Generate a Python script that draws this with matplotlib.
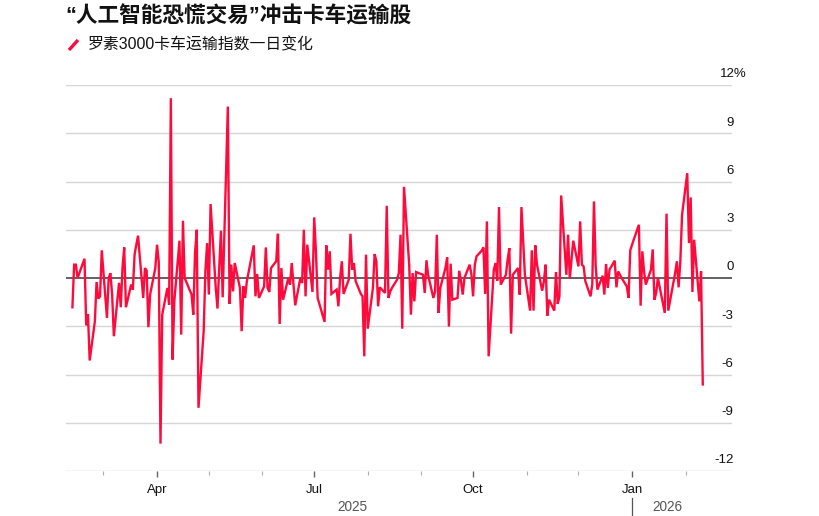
import pandas as pd
import matplotlib
matplotlib.use("Agg")
import matplotlib.pyplot as plt
import matplotlib.dates as mdates
import matplotlib.transforms as mtransforms
from matplotlib.lines import Line2D

plt.rcParams["font.family"] = ["Liberation Sans", "Noto Sans CJK SC"]

# Variation journalière (%) de l'indice, mois par mois
fev25 = [-1.82, 0.83, 0.83, 0, 1.2, -2.94, -2.24, -5.13, -2.7, -0.25, -1.28, -1.14, 1.72]
mar25 = [-2.48, 0, 0.3, -1.03, -3.62, -0.3, -1.82, 0.62, 1.9, -1.82, -0.41, -0.72, 1.45,
         2.07, 2.63, -1.24, 0.62, 0.45, -3.06, -1.03, 0.62]
avr25 = [2.07, 1.0, -10.3, -2.28, -0.62, -1.66, 11.18, -5.07, -1.45, 2.32, -3.52, 3.56, 0,
         -1.03, -2.28, 1.55, 3.0, -8.07, -3.31, 0.43, 2.17]
mai25 = [-1.03, 4.6, -0.62, -1.9, 0.62, 2.94, -1.2, 10.66, -1.61, 0.83, -0.83, 0.93, -0.62,
         -3.31, -0.52, -1.24, -0.2, 2.03, -1.14, 0.25, -1.24]
jun25 = [-0.52, 1.9, -0.62, -0.87, 0.62, 1.04, 2.75, -2.86, 0.62, -1.35, 0, -0.41, 0.93,
         -1.7, 0, -0.31, 3.0, -1.14, 2.07, -0.87]
jul25 = [3.77, 1.66, -1.24, -2.73, 2.03, 0.52, 1.66, -0.99, -0.72, -1.76, 0, 1.04, -0.99,
         -0.1, 2.75, 0.52, 0.93, -0.2, -0.99, -1.14, -4.87, 1.45]
aou25 = [-3.15, -0.62, 1.49, 1.04, -1.76, -0.58, -0.93, 4.49, -1.24, -0.85, -0.62, -0.1,
         0.3, 2.69, -3.15, 5.67, 0.83, -2.28, 0.31, -1.45, 0.37]
sep25 = [0.2, -0.93, 1.1, 0.17, -1.24, -0.83, 2.69, -2.17, -0.62, 0.62, 1.28, -3.02, 0.89,
         -1.35, -1.24, 0.45, -0.2, -1.03, 0, 0.83, 0.25]
oct25 = [-1.14, 0.83, 1.35, 1.7, 1.9, -0.99, 3.52, -4.87, 0.52, 0.93, -0.17, 4.41, -0.41,
         0.2, 1.14, 1.86, -3.46, 0.2, 0.62, -1.03, 4.41, 2.24, 0.2]
nov25 = [-2.03, 1.72, -2.03, 2.03, 0.83, -0.79, -0.2, 0.83, -2.34, -1.35, -2.03, 0.37,
         -1.61, -1.14, 5.13, 0.2, 2.69, -0.04, 2.32]
dec25 = [0.72, 3.52, 0.83, 0.72, -0.2, -1.14, -0.41, 4.76, 0.72, -0.72, 0.14, -1.03, 0.87,
         -0.62, 0.52, 1.08, -0.58, 0.41, 0, -0.52, -1.24, 1.72]
jan26 = [2.38, 3.31, -1.72, 1.66, 0.41, -0.41, 0.52, 1.78, -1.35, -0.93, 0, -2.17, 4.0,
         -2.03, -1.45, 0.31, 1.04, -0.58, 1.04, 3.93]
fev26 = [6.52, 2.17, 5.01, -0.87, 2.38, -1.45, 0.41, -6.62]

# Jours fériés de la bourse de New York sur la période
feries = ["2025-02-17", "2025-04-18", "2025-05-26", "2025-06-19", "2025-07-04",
          "2025-09-01", "2025-11-27", "2025-12-25", "2026-01-01", "2026-01-19"]

graduations_y = [-12, -9, -6, -3, 0, 3, 6, 9, 12]
etiquettes_y = ["-12", "-9", "-6", "-3", "0", "3", "6", "9", "12%"]

titre = "“人工智能恐慌交易”冲击卡车运输股"
legende = "罗素3000卡车运输指数一日变化"

valeurs = fev25 + mar25 + avr25 + mai25 + jun25 + jul25 + aou25 + sep25 + oct25 + nov25 + dec25 + jan26 + fev26
jours = pd.bdate_range("2025-02-11", periods=len(valeurs), freq="C", holidays=feries)

ROUGE = "#ff0a3c"
W, H = 819, 516

fig = plt.figure(figsize=(W / 100, H / 100), dpi=100)
ax = fig.add_axes([66 / W, 1 - 471 / H, (732 - 66) / W, (471 - 85) / H])

# Grille horizontale
for v in graduations_y:
    if v == 0:
        ax.axhline(v, color="#555555", linewidth=1.3, zorder=2)
    else:
        ax.axhline(v, color="#d6d6d6", linewidth=1.0, zorder=1)

ax.plot(jours, valeurs, color=ROUGE, linewidth=1.7, solid_joinstyle="miter", zorder=3)

ax.set_ylim(-12, 12)
ax.set_xlim(pd.Timestamp("2025-02-07 07:00"), pd.Timestamp("2026-02-27 22:00"))
for s in ax.spines.values():
    s.set_visible(False)
ax.set_yticks([])

# Axe des dates
ax.xaxis.set_major_locator(mdates.MonthLocator(bymonth=[1, 4, 7, 10]))
ax.xaxis.set_minor_locator(mdates.MonthLocator())
ax.xaxis.set_major_formatter(mdates.DateFormatter("%b"))
ax.tick_params(axis="x", which="major", length=4.5, width=1, color="#666666",
               labelsize=9.5, labelcolor="#111111", pad=5)
ax.tick_params(axis="x", which="minor", length=3, width=0.8, color="#b0b0b0")

# Étiquettes de l'axe y, au-dessus des lignes de grille
trans_y = mtransforms.offset_copy(ax.get_yaxis_transform(), fig=fig, x=1, y=5.5, units="points")
for v, lab in zip(graduations_y, etiquettes_y):
    if lab.endswith("%"):
        ax.text(1.0, v, lab, transform=mtransforms.offset_copy(trans_y, fig=fig, x=9.5, units="points"),
                ha="right", va="baseline", fontsize=9.5, color="#111111")
    else:
        ax.text(1.0, v, lab, transform=trans_y, ha="right", va="baseline", fontsize=9.5, color="#111111")

# Années sous l'axe
trans_annee = mtransforms.blended_transform_factory(ax.transData, fig.transFigure)
jan1 = pd.Timestamp("2026-01-01")
milieu_2025 = jours[0] + (jan1 - jours[0]) / 2
milieu_2026 = jan1 + (jours[-1] - jan1) / 2
ax.text(mdates.date2num(milieu_2025), 1 - 507 / H, "2025", transform=trans_annee,
        ha="center", va="center", fontsize=9.8, color="#555555")
ax.text(mdates.date2num(milieu_2026), 1 - 507 / H, "2026", transform=trans_annee,
        ha="center", va="center", fontsize=9.8, color="#555555")
ax.add_line(Line2D([mdates.date2num(jan1)] * 2, [1 - 498 / H, 1 - 515 / H], transform=trans_annee,
                   color="#555555", linewidth=0.9, clip_on=False))

# Titre et légende
fig.text(65 / W, 1 - 17 / H, titre, fontsize=15.6, fontweight="bold", color="#111111",
         ha="left", va="center")
fig.add_artist(Line2D([69 / W, 78 / W], [1 - 50 / H, 1 - 40 / H], transform=fig.transFigure,
                      color=ROUGE, linewidth=2.4, solid_capstyle="butt"))
fig.text(88 / W, 1 - 45 / H, legende, fontsize=11.4, color="#111111", ha="left", va="center")

fig.savefig("out.png", dpi=100)
